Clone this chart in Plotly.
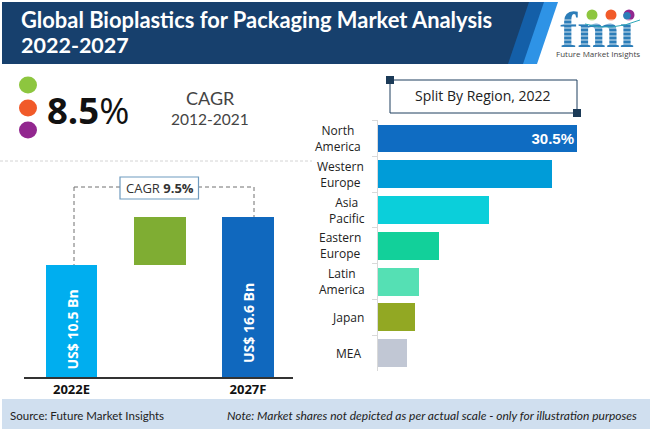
import plotly.graph_objects as go

W, H = 650, 429

# Data
years = ["2022E", "Growth", "2027F"]
bar_tops = [10.5, 4.5, 15.0]      # drawn heights (chart is not to scale)
bar_bases = [0, 10.5, 0]
bar_labels = ["US$ 10.5 Bn", "US$ 16.6 Bn"]
regions = ["North America", "Western Europe", "Asia Pacific", "Eastern Europe",
           "Latin America", "Japan", "MEA"]
region_lines = ["North<br>America", "Western<br>Europe", "Asia<br>Pacific", "Eastern<br>Europe",
                "Latin<br>America", "Japan", "MEA"]
shares = [30.5, 26.7, 17.0, 9.4, 6.3, 5.7, 4.4]
share_text = ["<b>30.5%</b>", "", "", "", "", "", ""]

# Styles
year_colors = ["#00AEEF", "#7FAD33", "#1068BE"]
region_colors = ["#0F6CC2", "#009CD8", "#0BCFDA", "#12D09A", "#55E0B4", "#92A823", "#C1C7D4"]
region_label_x = [338, 340, 347, 340, 342, 348, 348]


def px(x):
    return x / W


def py(y):
    return 1 - y / H


def note(x, y, text, size, color="#222222", family="Open Sans", anchor="center", **kw):
    return dict(xref="paper", yref="paper", x=px(x), y=py(y), text=text, showarrow=False,
                xanchor=anchor, yanchor="middle", align="center",
                font=dict(size=size, color=color, family=family), **kw)


def rect(x0, y0, x1, y1, fill=None, line=None, lw=1, layer="below"):
    return dict(type="rect", xref="paper", yref="paper", x0=px(x0), x1=px(x1), y0=py(y0), y1=py(y1),
                fillcolor=fill if fill else "rgba(0,0,0,0)",
                line=dict(color=line if line else "rgba(0,0,0,0)", width=lw if line else 0), layer=layer)


def poly(pts, fill):
    d = "M " + " L ".join(f"{px(a):.5f},{py(b):.5f}" for a, b in pts) + " Z"
    return dict(type="path", xref="paper", yref="paper", path=d, fillcolor=fill, line=dict(width=0), layer="below")


def seg(x0, y0, x1, y1, color, width=1, dash="solid", layer="below"):
    return dict(type="line", xref="paper", yref="paper", x0=px(x0), x1=px(x1), y0=py(y0), y1=py(y1),
                line=dict(color=color, width=width, dash=dash), layer=layer)


def dot(cx, cy, rx, ry, color):
    return dict(type="circle", xref="paper", yref="paper", x0=px(cx - rx), x1=px(cx + rx),
                y0=py(cy + ry), y1=py(cy - ry), fillcolor=color, line=dict(width=0), layer="below")


fig = go.Figure()

# Left chart
fig.add_trace(go.Bar(x=[0, 1, 2], y=bar_tops, base=bar_bases, width=0.585,
                     marker=dict(color=year_colors, line=dict(width=0)),
                     xaxis="x", yaxis="y", hoverinfo="skip"))
# Right chart
fig.add_trace(go.Bar(y=regions, x=shares, orientation="h", width=0.78,
                     marker=dict(color=region_colors, line=dict(width=0)),
                     text=share_text, textposition="inside", insidetextanchor="end", textangle=0,
                     insidetextfont=dict(family="Liberation Sans", size=15, color="white"),
                     xaxis="x2", yaxis="y2", hoverinfo="skip"))
# Logo wordmark on a full-page overlay so that white stripes can cross it
fig.add_trace(go.Scatter(x=[597], y=[34], mode="text", text=["<b>fmi</b>"], textposition="middle center",
                         textfont=dict(family="Liberation Serif", size=51, color="#2C7DB8"),
                         xaxis="x3", yaxis="y3", hoverinfo="skip"))

arc = (f"M {px(585):.5f},{py(24):.5f} Q {px(611):.5f},{py(32):.5f} {px(640):.5f},{py(20):.5f}")
shapes = [
    rect(2, 399, 650, 429, fill="#D0DFEF"),
    poly([(2, 2), (558, 2), (537, 64), (2, 64)], "#2E93E6"),
    poly([(2, 2), (544, 2), (523, 64), (2, 64)], "#145FA8"),
    poly([(2, 2), (529, 2), (508, 64), (2, 64)], "#17406D"),
    dot(28, 85, 9, 8.5, "#8DC63F"),
    dot(28, 108, 9, 8.5, "#F15A29"),
    dot(28, 130, 9, 8.5, "#92278F"),
    seg(0, 161, 312, 161, "#D4D4D4", 1, "3px,2px"),
    # Split box
    rect(390, 80, 577, 113, line="#1F3F5F", lw=1),
    rect(386, 76, 394, 84, fill="#1B3A57"),
    rect(573, 109, 581, 117, fill="#1B3A57"),
    # CAGR connector
    seg(74, 187, 120, 187, "#707070", 1, "4px,3px"),
    seg(198, 187, 254, 187, "#707070", 1, "4px,3px"),
    seg(74, 187, 74, 265, "#707070", 1, "4px,3px"),
    seg(254, 187, 254, 217, "#707070", 1, "4px,3px"),
    rect(120, 177, 198.5, 199, line="#6F9BBF", lw=1.2),
    # Logo dots
    dot(592, 15, 5.5, 5.5, "#8DC63F"),
    dot(611, 15, 5.5, 5.5, "#F15A29"),
    dot(629, 15, 5.5, 5.5, "#92278F"),
]
# White stripes across the logo wordmark
for sy in [20, 24, 28, 32, 36, 40, 44]:
    shapes.append(seg(553, sy, 645, sy, "white", 0.8, layer="above"))
shapes.append(dict(type="path", xref="paper", yref="paper", path=arc,
                   line=dict(color="#2CA6B8", width=1), layer="above"))

annotations = [
    note(19, 20, "<b>Global Bioplastics for Packaging Market Analysis</b>", 21.9, "white", "Lato", "left"),
    note(19, 45, "<b>2022-2027</b>", 21.5, "white", "Lato", "left"),
    note(598, 54, "Future Market Insights", 8, "#444444", "Open Sans"),
    note(87.5, 110, "<b>8.5</b>%", 36.5, "#111111", "Open Sans"),
    note(210, 98, "CAGR", 18, "#444444", "Lato"),
    note(210, 119, "2012-2021", 15.5, "#444444", "Lato"),
    note(483, 96, "Split By Region, 2022", 14, "#222222", "Open Sans"),
    note(160, 188, "CAGR <b>9.5%</b>", 13, "#333333", "Open Sans"),
    note(71.5, 330, "<b>" + bar_labels[0] + "</b>", 14, "white", "Open Sans", textangle=-90),
    note(248, 323, "<b>" + bar_labels[1] + "</b>", 14, "white", "Open Sans", textangle=-90),
    note(8, 415, "Source: Future Market Insights", 11.5, "#222222", "Lato", "left"),
    note(225, 415, "<i>Note: Market shares not depicted as per actual scale - only for illustration purposes</i>",
         12, "#222222", "Lato", "left"),
]
for name, lx, i in zip(region_lines, region_label_x, range(len(regions))):
    annotations.append(dict(xref="paper", yref="y2", x=px(lx), y=regions[i], text=name, showarrow=False,
                            xanchor="center", yanchor="middle", align="center",
                            font=dict(size=12, color="#222222", family="Open Sans")))

fig.update_layout(
    width=W, height=H, margin=dict(l=0, r=0, t=0, b=0), showlegend=False,
    paper_bgcolor="white", plot_bgcolor="rgba(0,0,0,0)", bargap=0,
    shapes=shapes, annotations=annotations,
    xaxis=dict(domain=[px(24), px(293)], range=[-0.538, 2.51], tickmode="array", tickvals=[0, 2],
               ticktext=["<b>" + years[0] + "</b>", "<b>" + years[2] + "</b>"], showgrid=False, zeroline=False,
               showline=True, linecolor="#333333", linewidth=1.5, ticks="",
               tickfont=dict(family="Open Sans", size=13, color="#111111"), anchor="y"),
    yaxis=dict(domain=[py(377), py(180)], range=[0, 18.47], visible=False, anchor="x"),
    xaxis2=dict(domain=[px(378), px(600)], range=[0, 34.05], visible=False, anchor="y2"),
    yaxis2=dict(domain=[py(371), py(120)], type="category", categoryorder="array", categoryarray=regions,
                autorange="reversed", showticklabels=False, showgrid=False, zeroline=False,
                showline=True, linecolor="#D9D9D9", linewidth=1, ticks="outside", ticklen=5,
                tickcolor="#D9D9D9", tickson="boundaries", anchor="x2"),
    xaxis3=dict(domain=[0, 1], range=[0, W], visible=False, anchor="y3"),
    yaxis3=dict(domain=[0, 1], range=[H, 0], visible=False, anchor="x3"),
)

fig.write_html("out.html", config=dict(displayModeBar=False),
               post_script="document.body.style.margin='0';document.body.style.overflow='hidden';")
